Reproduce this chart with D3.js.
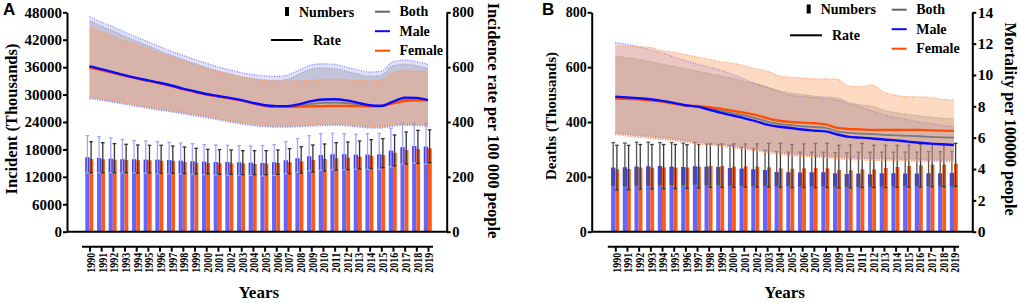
<!DOCTYPE html>
<html>
<head>
<meta charset="utf-8">
<script src="https://cdn.jsdelivr.net/npm/d3@7"></script>
<style>
  body { margin: 0; background: #fff; }
  svg { display: block; }
  text { font-family: "Liberation Serif", "Times New Roman", serif; font-weight: bold; fill: #000; }
</style>
</head>
<body>
<svg width="1020" height="303"></svg>
<script>
var years = [1990, 1991, 1992, 1993, 1994, 1995, 1996, 1997, 1998, 1999,
             2000, 2001, 2002, 2003, 2004, 2005, 2006, 2007, 2008, 2009,
             2010, 2011, 2012, 2013, 2014, 2015, 2016, 2017, 2018, 2019];

// ---- panel A : incidence ----
var ticksA = [0, 6000, 12000, 18000, 24000, 30000, 36000, 42000, 48000];
var rateTicksA = [0, 200, 400, 600, 800];

var incMale = [16280, 16125, 15970, 15840, 15840, 15750, 15750, 15690, 15535, 15400, 15315, 15250, 15250, 15185, 15100,
               15032, 15178, 15615, 16053, 16490, 16782, 16928, 16928, 16855, 16855, 16928, 17730, 18460, 18751, 18605];
var incMaleUp = [21010, 20790, 20500, 20140, 19920, 19850, 19700, 19550, 19410, 19260, 19040, 18970, 18900, 18820, 18750,
                 18820, 19040, 19700, 20360, 21010, 21450, 21520, 21450, 21300, 21450, 21520, 22620, 23720, 23720, 23720];
var incMaleLo = [12920, 12920, 12920, 12850, 12850, 12780, 12700, 12700, 12630, 12550, 12480, 12400, 12400, 12330, 12330,
                 12190, 12330, 12700, 12990, 13280, 13430, 13570, 13570, 13650, 13650, 13650, 14230, 14810, 15030, 14810];
var incFemale = [15900, 15840, 15750, 15690, 15620, 15620, 15535, 15470, 15250, 15100, 15030, 14960, 14960, 14960, 14820,
                 14886, 15032, 15178, 15397, 15688, 15907, 16053, 16199, 16418, 16564, 16782, 17293, 17876, 18095, 18240];
var incFemaleUp = [19700, 19480, 19260, 19120, 18970, 18900, 18900, 18750, 18530, 18240, 18020, 17950, 17880, 17730, 17730,
                   17730, 17880, 18170, 18600, 18970, 19190, 19480, 19630, 19850, 20140, 20360, 21160, 21810, 22180, 22300];
var incFemaleLo = [12920, 12920, 12920, 12920, 12850, 12850, 12780, 12780, 12700, 12630, 12630, 12550, 12550, 12480, 12480,
                   12480, 12550, 12700, 12840, 13060, 13280, 13430, 13570, 13720, 13870, 14010, 14380, 14810, 14960, 15100];

var rateMaleA = [603, 593, 582, 571, 561, 552, 543, 533, 522, 512, 502, 495, 488, 480, 470,
                 461, 458, 458, 465, 476, 482, 483, 479, 470, 461, 459, 474, 489, 488, 480];
var rateFemaleA = [598, 589, 579, 569, 559, 550, 541, 531, 520, 510, 500, 493, 486, 478, 468,
                   459, 456, 455, 456, 457, 458, 459, 459, 458, 457, 458, 468, 476, 479, 479];
var rateBothA = [600, 591, 580, 570, 560, 551, 542, 532, 521, 511, 501, 494, 487, 479, 469,
                 460, 457, 456, 460, 466, 470, 471, 469, 464, 459, 458, 471, 482, 483, 480];
var uiMaleUpA = [784, 765, 747, 728, 710, 693, 675, 658, 643, 628, 614, 601, 590, 580, 573,
                 568, 566, 572, 590, 608, 612, 610, 600, 590, 582, 585, 620, 626, 620, 610];
var uiMaleLoA = [485, 479, 472, 465, 457, 450, 443, 437, 430, 423, 416, 408, 400, 393, 387,
                 383, 381, 381, 383, 385, 387, 388, 386, 382, 378, 378, 385, 388, 387, 385];
var uiFemaleUpA = [745, 729, 713, 697, 682, 667, 651, 636, 622, 608, 596, 585, 575, 566, 558,
                   552, 549, 549, 550, 552, 555, 556, 555, 552, 550, 553, 580, 587, 585, 583];
var uiFemaleLoA = [491, 485, 478, 471, 463, 456, 449, 443, 436, 429, 422, 414, 406, 399, 393,
                   389, 387, 387, 389, 391, 393, 394, 392, 388, 384, 384, 391, 394, 393, 391];
var uiBothUpA = [769, 750, 732, 713, 695, 678, 660, 643, 628, 613, 599, 586, 575, 565, 558,
                 553, 551, 557, 575, 593, 597, 595, 585, 575, 567, 570, 605, 611, 605, 595];
var uiBothLoA = [488, 482, 475, 468, 460, 453, 446, 440, 433, 426, 419, 411, 403, 396, 390,
                 386, 384, 384, 386, 388, 390, 391, 389, 385, 381, 381, 388, 391, 390, 388];

// ---- panel B : deaths ----
var ticksB = [0, 200, 400, 600, 800];
var rateTicksB = [0, 2, 4, 6, 8, 10, 12, 14];

var dthMale = [233.5, 234.7, 237.1, 238.3, 239.5, 237.1, 235.9, 238.3, 237.1, 235.9, 232.2, 229.8, 227.4, 225, 217.7,
               216.4, 215.2, 216.4, 216.4, 212.8, 210.4, 211.6, 209.1, 212.8, 212.8, 211.6, 211.6, 212.8, 212.8, 214];
var dthMaleUp = [325, 323, 326, 326, 325, 325, 323, 325, 320, 318, 315, 308, 303, 296, 292,
                 290, 290, 290, 290, 288, 288, 290, 290, 290, 290, 290, 290, 292, 292, 292];
var dthMaleLo = [170, 168, 170, 170, 172, 172, 172, 174, 172, 172, 170, 170, 170, 170, 168,
                 168, 168, 168, 168, 166, 166, 166, 166, 167, 167, 168, 168, 168, 168, 168];
var dthFemale = [227.4, 228.6, 233.5, 233.5, 234.7, 233.5, 233.5, 237.1, 239.5, 239.5, 237.1, 238.3, 237.1, 234.7, 231,
                 229.8, 231, 232.2, 231, 225, 223.7, 227.4, 227.4, 232.2, 235.9, 239.5, 242, 244.4, 244.4, 248];
var dthFemaleUp = [315, 315, 318, 318, 318, 318, 317, 318, 320, 320, 320, 320, 320, 322, 322,
                   318, 320, 322, 322, 315, 316, 322, 315, 315, 315, 315, 318, 320, 318, 322];
var dthFemaleLo = [152, 153, 155, 156, 157, 157, 158, 160, 162, 162, 162, 163, 163, 163, 162,
                   161, 161, 161, 161, 160, 160, 161, 161, 161, 162, 163, 163, 164, 164, 165];

var rateMaleB = [8.61, 8.57, 8.52, 8.45, 8.35, 8.22, 8.07, 7.98, 7.80, 7.60, 7.42, 7.25, 7.06, 6.83, 6.70,
                 6.62, 6.52, 6.45, 6.40, 6.20, 6.05, 6.00, 5.95, 5.88, 5.83, 5.75, 5.68, 5.62, 5.58, 5.53];
var rateFemaleB = [8.49, 8.47, 8.45, 8.38, 8.30, 8.17, 8.05, 8.02, 7.95, 7.85, 7.72, 7.60, 7.45, 7.25, 7.08,
                   7.00, 6.96, 6.92, 6.85, 6.62, 6.55, 6.53, 6.50, 6.50, 6.49, 6.50, 6.50, 6.47, 6.45, 6.43];
var rateBothB = [8.55, 8.52, 8.48, 8.41, 8.32, 8.19, 8.06, 8.00, 7.87, 7.72, 7.56, 7.42, 7.25, 7.03, 6.88,
                 6.80, 6.73, 6.68, 6.62, 6.40, 6.30, 6.26, 6.22, 6.18, 6.15, 6.12, 6.09, 6.05, 6.02, 6.00];
var uiMaleUpB = [12.06, 11.95, 11.80, 11.60, 11.40, 11.15, 10.90, 10.70, 10.50, 10.30, 10.05, 9.75, 9.45, 9.20, 8.95,
                 8.70, 8.62, 8.55, 8.48, 8.40, 8.15, 7.95, 7.70, 7.45, 7.30, 7.15, 7.00, 6.90, 6.78, 6.70];
var uiMaleLoB = [6.28, 6.20, 6.12, 6.05, 5.98, 5.90, 5.80, 5.70, 5.62, 5.55, 5.45, 5.35, 5.25, 5.15, 5.05,
                 4.95, 4.90, 4.85, 4.80, 4.75, 4.70, 4.68, 4.66, 4.64, 4.62, 4.60, 4.58, 4.57, 4.56, 4.55];
var uiFemaleUpB = [11.85, 11.85, 11.80, 11.75, 11.55, 11.45, 11.30, 11.15, 11.00, 10.85, 10.75, 10.60, 10.40, 10.25, 9.95,
                   9.85, 9.80, 9.75, 9.75, 9.72, 9.30, 9.25, 9.36, 8.90, 8.70, 8.62, 8.60, 8.55, 8.45, 8.40];
var uiFemaleLoB = [6.18, 6.10, 6.02, 5.95, 5.88, 5.80, 5.70, 5.60, 5.52, 5.45, 5.35, 5.25, 5.15, 5.05, 4.95,
                   4.85, 4.80, 4.75, 4.70, 4.65, 4.60, 4.58, 4.56, 4.54, 4.52, 4.50, 4.48, 4.47, 4.46, 4.45];
var uiBothUpB = [11.20, 11.10, 11.00, 10.85, 10.70, 10.55, 10.40, 10.25, 10.10, 9.95, 9.80, 9.62, 9.45, 9.25, 9.00,
                 8.85, 8.75, 8.65, 8.60, 8.55, 8.25, 8.10, 8.00, 7.75, 7.60, 7.50, 7.40, 7.30, 7.25, 7.20];
var uiBothLoB = [6.32, 6.25, 6.17, 6.10, 6.03, 5.95, 5.85, 5.75, 5.67, 5.60, 5.50, 5.40, 5.30, 5.20, 5.10,
                 5.00, 4.95, 4.90, 4.85, 4.80, 4.75, 4.73, 4.71, 4.69, 4.67, 4.65, 4.63, 4.62, 4.61, 4.60];

(function () {

	var svg = d3.select("svg");

	var BLUE = "#0a0aff", ORANGE = "#ff4d00", GREY = "#7a7a7a";

	function panel(p) {
		var g = svg.append("g");

		var x = d3.scalePoint().domain(years).range(p.xr);
		var y = d3.scaleLinear().domain([0, p.yMax]).range([231.7, 12.3]);
		var r = d3.scaleLinear().domain([0, p.rMax]).range([231.7, 12.3]);

		// bars
		g.selectAll(".bm").data(years).enter().append("rect")
			.attr("x", function (d) { return x(d) - 4.2; })
			.attr("width", 4.2)
			.attr("y", function (d, i) { return y(p.male[i]); })
			.attr("height", function (d, i) { return y(0) - y(p.male[i]); })
			.attr("fill", "#6464ff");
		g.selectAll(".bmd").data(years).enter().append("rect")
			.attr("x", function (d) { return x(d) - 4.2; })
			.attr("width", 4.2)
			.attr("y", function (d, i) { return y(p.male[i]); })
			.attr("height", function (d, i) { return Math.max(0, y(p.maleLo[i]) - y(p.male[i])); })
			.attr("fill", "#1c1cc8")
			.attr("opacity", 0.5);
		g.selectAll(".bf").data(years).enter().append("rect")
			.attr("x", function (d) { return x(d); })
			.attr("width", 3.8)
			.attr("y", function (d, i) { return y(p.female[i]); })
			.attr("height", function (d, i) { return y(0) - y(p.female[i]); })
			.attr("fill", "#ff5a14");

		// error bars
		function whiskers(lo, up, dx, col) {
			var w = g.append("g").attr("stroke", col).attr("stroke-width", 1.3);
			years.forEach(function (d, i) {
				var cx = x(d) + dx;
				w.append("line").attr("x1", cx).attr("x2", cx).attr("y1", y(lo[i])).attr("y2", y(up[i]));
				w.append("line").attr("x1", cx - 1.8).attr("x2", cx + 1.8).attr("y1", y(up[i])).attr("y2", y(up[i]));
				w.append("line").attr("x1", cx - 1.8).attr("x2", cx + 1.8).attr("y1", y(lo[i])).attr("y2", y(lo[i]));
			});
		}
		whiskers(p.maleLo, p.maleUp, -2.1, p.maleWhisker);
		whiskers(p.femaleLo, p.femaleUp, 1.6, p.femaleWhisker);

		// uncertainty bands of the rates
		function band(lo, up, fill, edge) {
			var a = d3.area()
				.x(function (d) { return x(d); })
				.y0(function (d, i) { return r(lo[i]); })
				.y1(function (d, i) { return r(up[i]); })
				.curve(d3.curveMonotoneX);
			g.append("path").attr("d", a(years)).attr("fill", fill);
			[lo, up].forEach(function (arr) {
				var l = d3.line()
					.x(function (d) { return x(d); })
					.y(function (d, i) { return r(arr[i]); })
					.curve(d3.curveMonotoneX);
				g.append("path").attr("d", l(years)).attr("fill", "none")
					.attr("stroke", edge).attr("stroke-width", 1.2)
					.attr("stroke-dasharray", "1,1.5");
			});
		}
		band(p.uiMaleLo, p.uiMaleUp, "rgba(100,100,255,0.2)", "#7a7aff");
		band(p.uiBothLo, p.uiBothUp, "rgba(128,128,128,0.3)", "#9a9aa8");
		band(p.uiFemaleLo, p.uiFemaleUp, "rgba(255,150,80,0.35)", "#ff9a60");

		// rate lines
		function rateLine(arr, col, w) {
			var l = d3.line()
				.x(function (d) { return x(d); })
				.y(function (d, i) { return r(arr[i]); })
				.curve(d3.curveMonotoneX);
			g.append("path").attr("d", l(years)).attr("fill", "none")
				.attr("stroke", col).attr("stroke-width", w);
		}
		rateLine(p.rateBoth, GREY, 1.8);
		rateLine(p.rateFemale, ORANGE, 2.3);
		rateLine(p.rateMale, BLUE, 2.4);

		// baseline
		g.append("line")
			.attr("x1", p.left).attr("x2", p.right)
			.attr("y1", y(0)).attr("y2", y(0))
			.attr("stroke", "#000").attr("stroke-width", 2);

		// axes
		var ay = g.append("g").attr("transform", "translate(" + p.left + ",0)")
			.call(d3.axisLeft(y).tickValues(p.ticks).tickSize(4).tickPadding(1).tickSizeOuter(0).tickFormat(d3.format("d")));
		ay.selectAll("text").style("font-size", p.fsL + "px");

		var ar = g.append("g").attr("transform", "translate(" + p.right + ",0)")
			.call(d3.axisRight(r).tickValues(p.rateTicks).tickSize(4).tickPadding(1.5).tickSizeOuter(0).tickFormat(d3.format("d")));
		ar.selectAll("text").style("font-size", p.fsR + "px");

		var ax = g.append("g").attr("transform", "translate(0,246.7)")
			.call(d3.axisBottom(x).tickSize(5).tickSizeOuter(0));
		ax.select(".domain").attr("d", "M" + (p.xr[0] - 7.5) + ",0H" + (p.xr[1] + 5));
		ax.selectAll("text")
			.attr("transform", "rotate(-90)")
			.attr("x", -6).attr("y", 0).attr("dy", "0.36em")
			.attr("textLength", 20).attr("lengthAdjust", "spacingAndGlyphs")
			.style("text-anchor", "end").style("font-size", "13.5px");

		[ay, ar, ax].forEach(function (a) {
			a.attr("font-family", null);
			a.selectAll("path,line").attr("stroke", "#000").attr("stroke-width", 2);
		});

		// titles
		g.append("text")
			.attr("transform", "translate(" + p.lt[0] + "," + p.lt[1] + ") rotate(-90)")
			.attr("text-anchor", "middle").style("font-size", p.ltSize + "px")
			.text(p.leftTitle);
		g.append("text")
			.attr("transform", "translate(" + p.rt[0] + "," + p.rt[1] + ") rotate(90)")
			.attr("text-anchor", "middle").style("font-size", p.rtSize + "px")
			.text(p.rightTitle);
		g.append("text")
			.attr("x", (p.xr[0] + p.xr[1]) / 2).attr("y", 298)
			.attr("text-anchor", "middle").style("font-size", "17px")
			.text("Years");
		g.append("text")
			.attr("x", p.letter[0]).attr("y", p.letter[1])
			.style("font-family", "'Liberation Sans', Arial, sans-serif")
			.style("font-size", "17px")
			.text(p.letterText);

		// legend
		var L = p.legend, lg = g.append("g").style("font-size", "14px");
		lg.append("rect").attr("x", L.nx).attr("y", L.ny - 8.5).attr("width", 4).attr("height", 9).attr("fill", "#000");
		lg.append("text").attr("x", L.nx + 14).attr("y", L.ny + 1).text("Numbers");
		lg.append("line").attr("x1", L.rx).attr("x2", L.rx + 32).attr("y1", L.ry).attr("y2", L.ry)
			.attr("stroke", "#000").attr("stroke-width", 2);
		lg.append("text").attr("x", L.rx + 42).attr("y", L.ry + 4.5).text("Rate");
		[["Both", "#666"], ["Male", BLUE], ["Female", ORANGE]].forEach(function (s, i) {
			var yy = L.by + i * 19.5;
			lg.append("line").attr("x1", L.bx).attr("x2", L.bx + 15).attr("y1", yy).attr("y2", yy)
				.attr("stroke", s[1]).attr("stroke-width", 2);
			lg.append("text").attr("x", L.bx + 24.5).attr("y", yy + 4.5).text(s[0]);
		});
	}

	panel({
		xr: [89.5, 428], left: 67, right: 446.7, yMax: 48000, rMax: 800,
		ticks: ticksA, rateTicks: rateTicksA, fsL: 15, fsR: 14.5,
		male: incMale, maleUp: incMaleUp, maleLo: incMaleLo,
		female: incFemale, femaleUp: incFemaleUp, femaleLo: incFemaleLo,
		maleWhisker: "#a4a4ff", femaleWhisker: "#333",
		rateMale: rateMaleA, rateFemale: rateFemaleA, rateBoth: rateBothA,
		uiMaleUp: uiMaleUpA, uiMaleLo: uiMaleLoA, uiFemaleUp: uiFemaleUpA, uiFemaleLo: uiFemaleLoA,
		uiBothUp: uiBothUpA, uiBothLo: uiBothLoA,
		leftTitle: "Incident (Thousands)", lt: [16.5, 119], ltSize: 16.5,
		rightTitle: "Incidence rate per 100 000 people", rt: [488, 120.5], rtSize: 16.5,
		letter: [3, 15], letterText: "A",
		legend: { nx: 285, ny: 15.5, rx: 271, ry: 40, bx: 375, by: 11.7 }
	});

	panel({
		xr: [615.3, 954], left: 591.7, right: 972.3, yMax: 800, rMax: 14,
		ticks: ticksB, rateTicks: rateTicksB, fsL: 14, fsR: 15.5,
		male: dthMale, maleUp: dthMaleUp, maleLo: dthMaleLo,
		female: dthFemale, femaleUp: dthFemaleUp, femaleLo: dthFemaleLo,
		maleWhisker: "#555", femaleWhisker: "#3a3a3a",
		rateMale: rateMaleB, rateFemale: rateFemaleB, rateBoth: rateBothB,
		uiMaleUp: uiMaleUpB, uiMaleLo: uiMaleLoB, uiFemaleUp: uiFemaleUpB, uiFemaleLo: uiFemaleLoB,
		uiBothUp: uiBothUpB, uiBothLo: uiBothLoB,
		leftTitle: "Deaths (Thousands)", lt: [556, 116], ltSize: 15,
		rightTitle: "Mortality per 100000 people", rt: [1004.5, 119], rtSize: 16,
		letter: [542, 15], letterText: "B",
		legend: { nx: 806.7, ny: 13, rx: 790, ry: 35.3, bx: 891.7, by: 9.7 }
	});

})();
</script>
</body>
</html>
